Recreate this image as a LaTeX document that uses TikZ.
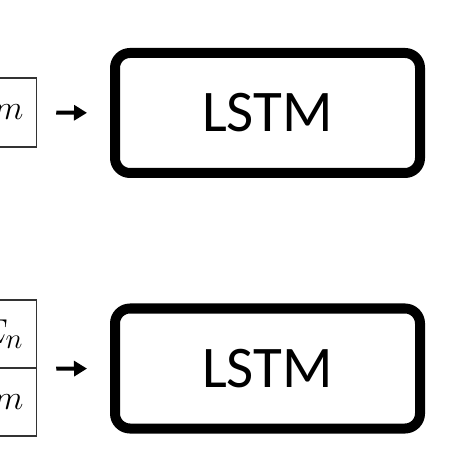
\documentclass[tikz,border=0pt]{standalone}
\usepackage{amsmath, amssymb, fontspec}
\usetikzlibrary{arrows.meta}
\newfontfamily\lstmfont{Carlito}

\begin{document}
\begin{tikzpicture}[x=0.5pt, y=-0.5pt,
    lstm/.style={draw, line width=5pt, rounded corners=7.5pt, minimum width=152.5pt, minimum height=60pt, inner sep=0pt, font=\lstmfont\fontsize{29.5}{30}\selectfont},
    cell/.style={draw=black!80, line width=0.75pt, text width=25pt, align=right, inner xsep=6.5pt, inner ysep=0pt, minimum height=34.5pt, font=\fontsize{19}{21}\selectfont},
    arr/.style={-{Triangle[length=6.5pt, width=7.5pt]}, line width=2pt}]
                \clip (0,0) rectangle (474,474);
                \node[cell] (xa) at (-1.5,112.5) {$m$};
                \node[cell, minimum height=34pt] (en) at (-1.5,334) {$E_n$};
                \node[cell, minimum height=34pt] (xb) at (-1.5,402) {$m$};
                \node[lstm] (la) at (267.5,113) {LSTM};
                \node[lstm] (lb) at (267.5,368.5) {LSTM};
                \coordinate (oa) at (530,115);
                \coordinate (ob) at (530,370);
                \draw[arr, shorten <=9.5pt, shorten >=11.5pt] (xa.east) -- (la.west);
                \draw[arr, shorten <=9.5pt, shorten >=11.5pt] (en.south east) -- (lb.west);
                \draw[arr, shorten <=25.5pt] (la.east) -- (oa);
                \draw[arr, shorten <=25.5pt] (lb.east) -- (ob);
                \end{tikzpicture}
\end{document}
